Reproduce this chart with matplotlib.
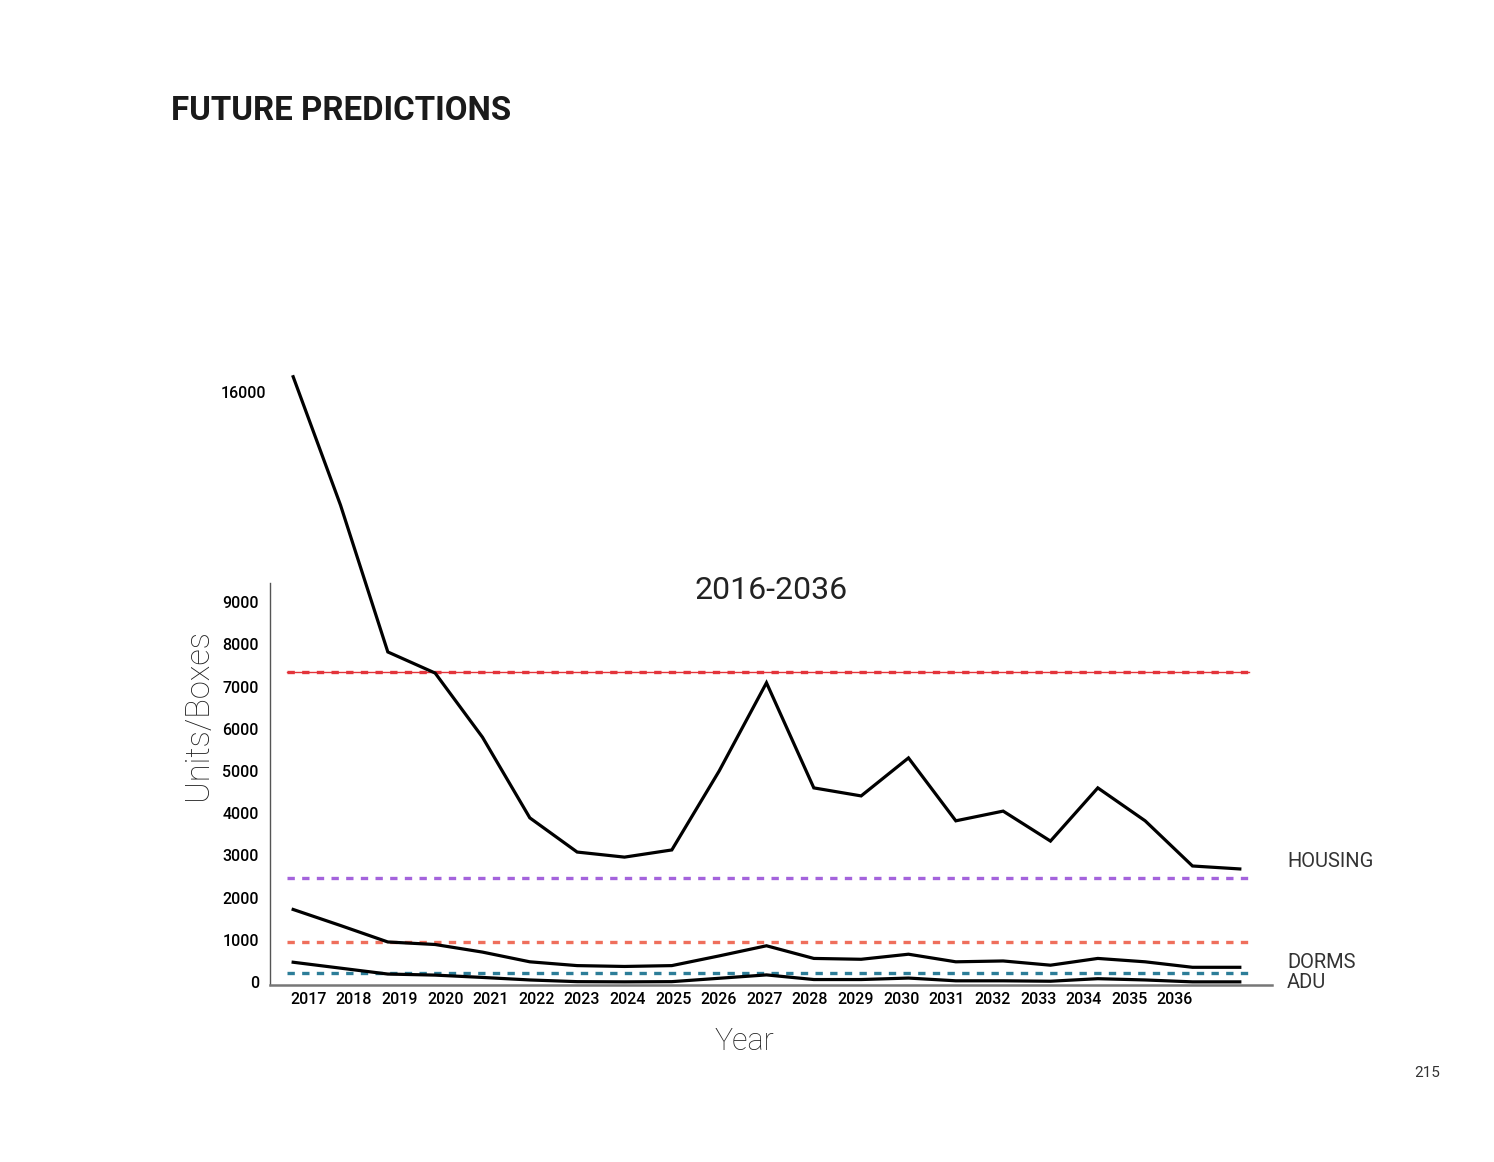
import matplotlib.pyplot as plt
import matplotlib.transforms as mtransforms
import numpy as np

plt.rcParams['font.family'] = ['Roboto', 'DejaVu Sans']

# data
years = [2016, 2017, 2018, 2019, 2020, 2021, 2022, 2023, 2024, 2025, 2026,
         2027, 2028, 2029, 2030, 2031, 2032, 2033, 2034, 2035, 2036]
housing = [14340, 11300, 7820, 7320, 5800, 3890, 3080, 2960, 3130, 5000, 7090,
           4600, 4410, 5310, 3820, 4050, 3340, 4600, 3820, 2750, 2680]
dorms = [1720, 1340, 950, 890, 710, 480, 390, 370, 390, 620, 860,
         560, 540, 660, 480, 500, 400, 560, 480, 350, 350]
adu = [470, 330, 190, 165, 110, 50, 10, 5, 10, 90, 170,
       60, 60, 95, 30, 30, 20, 80, 50, 5, 5]

# horizontal reference levels
ref_levels = [7350, 2460, 950, 210]
ref_colors = ['#e3343b', '#a463dc', '#ef6f5c', '#2c7d98']

tick_years = [str(y) for y in range(2017, 2037)]
ytick_vals = [0, 1000, 2000, 3000, 4000, 5000, 6000, 7000, 8000, 9000]

fig = plt.figure(figsize=(14.94, 11.62), dpi=100)
ax = fig.add_axes([0.1807, 0.1523, 0.6707, 0.5293])

# reference lines
x0, x1 = years[0] - 0.13, years[-1] + 0.2
for lvl, col in zip(ref_levels, ref_colors):
    if col == '#e3343b':
        ax.plot([x0, x1], [lvl, lvl], color=col, lw=1.0)
    ax.plot([x0, x1], [lvl, lvl], color=col, lw=2.4, linestyle=(0, (2.2, 2.2)))

# series
for s in (housing, dorms, adu):
    ax.plot(years, s, color='black', lw=2.3, clip_on=False, solid_joinstyle='miter')

ax.set_xlim(years[0] - 0.49, years[-1] + 0.68)
ax.set_ylim(-70, 14500)

ax.spines['top'].set_visible(False)
ax.spines['right'].set_visible(False)
ax.spines['left'].set_bounds(-70, 9450)
ax.spines['left'].set_color('#555555')
ax.spines['left'].set_linewidth(1.0)
ax.spines['bottom'].set_color('#777777')
ax.spines['bottom'].set_linewidth(1.8)

ax.set_xticks(np.linspace(years[0] + 0.32, years[0] + 18.63, len(tick_years)))
ax.set_xticklabels(tick_years, fontsize=11.5, fontweight='medium')
ax.set_yticks(ytick_vals + [13980])
ax.set_yticklabels([str(v) for v in ytick_vals] + ['16000'], fontsize=11.5,
                   fontweight='medium')
ax.tick_params(axis='both', length=0)
ax.tick_params(axis='y', pad=8)
ax.tick_params(axis='x', pad=5)

# the upper label sits a little further right in the original
lab = ax.get_yticklabels()[-1]
lab.set_transform(lab.get_transform() +
                  mtransforms.ScaledTranslation(7 / 100, 0, fig.dpi_scale_trans))

fig.text(198 / 1494, 1 - 715 / 1162, 'Units/Boxes', rotation=90, fontsize=23.5,
         fontweight='light', color='#222222', ha='center', va='center')
fig.text(744 / 1494, 1 - 1041 / 1162, 'Year', fontsize=22, fontweight='light',
         color='#222222', ha='center', va='center')
ax.text(0.5, 0.641, '2016-2036', transform=ax.transAxes, ha='center', va='center',
        fontsize=23, color='#222222')

# series labels on the right
for name, yv in [('HOUSING', 2860), ('DORMS', 470), ('ADU', 0)]:
    ax.text(1.015, yv, name, transform=ax.get_yaxis_transform(), fontsize=14.5,
            fontweight='normal', color='#333333', va='center')

fig.text(0.1145, 0.9045, 'FUTURE PREDICTIONS', fontsize=23.8, fontweight='bold',
         color='#1a1a1a', va='center')
fig.text(0.955, 0.0765, '215', fontsize=11, color='#333333', ha='center', va='center')

fig.savefig('out.png', dpi=100)
